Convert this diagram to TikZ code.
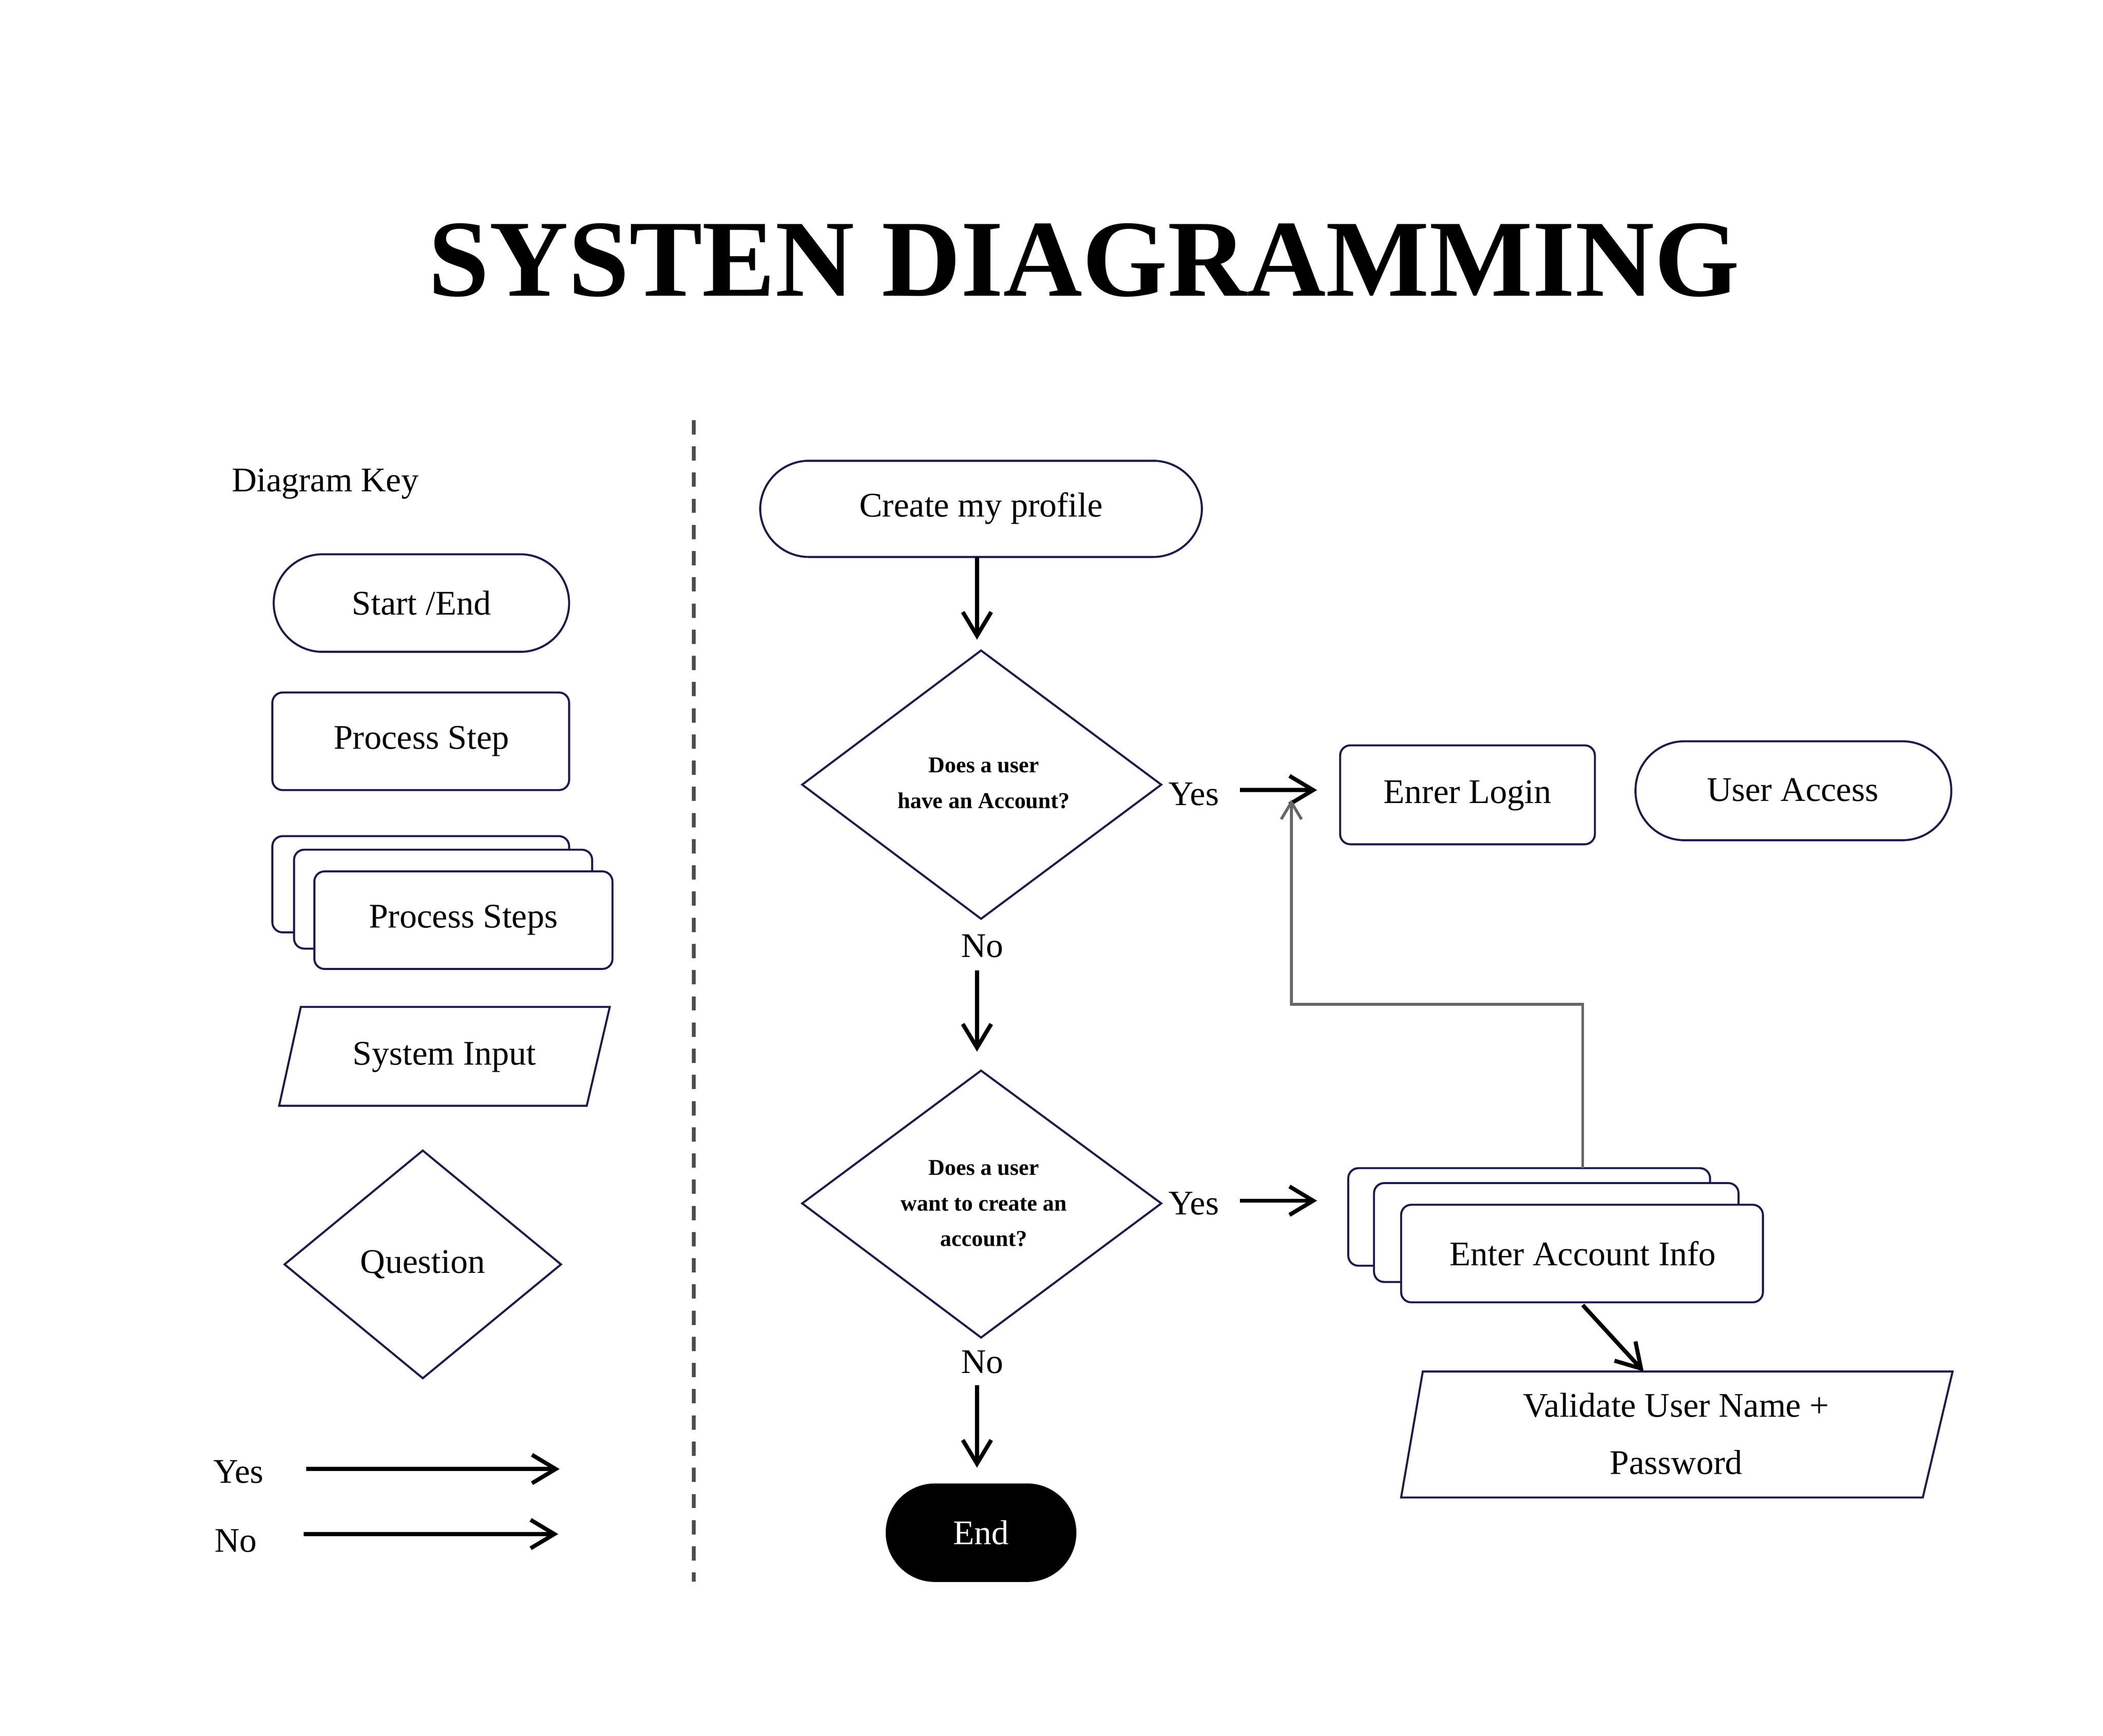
\documentclass[tikz,border=0pt]{standalone}
\usepackage{fontspec}
\setmainfont{Liberation Serif}
\usetikzlibrary{shapes.geometric,arrows.meta,positioning}
\definecolor{Edge}{HTML}{1C1C4A}
\tikzset{
  txt/.style={font=\fontsize{14.5}{17}\selectfont},
  qtxt/.style={font=\fontsize{9.5}{15}\selectfont\bfseries, align=center},
  terminal/.style={draw=Edge, line width=0.85pt, rounded corners=0.72cm, txt},
  procbox/.style={draw=Edge, line width=0.85pt, fill=white, rounded corners=0.15cm, txt},
  flow/.style={line width=1.7pt, -{Straight Barb[length=0.35cm, width=0.42cm, line width=1.7pt]}},
}
\begin{document}
\begin{tikzpicture}[x=0.02cm, y=-0.02cm]
    \useasboundingbox (0,0) rectangle (1552,1281);

    \node [font=\fontsize{46}{50}\selectfont\bfseries] (title) at (800,192) {SYSTEN DIAGRAMMING};
    \draw [dashed, dash pattern=on 6pt off 5pt, line width=1.7pt, color=black!70] (512,310) -- (512,1167);

    % key
    \node [txt] (key) at (240,357) {Diagram Key};
    \draw [terminal] (202,409) rectangle (420,481);
    \node [txt] (kstart) at (311,445) {Start /End};
    \draw [procbox] (201,511) rectangle (420,583);
    \node [txt] (kstep) at (311,547) {Process Step};
    \draw [procbox] (201,617) rectangle (420,688);
    \draw [procbox] (217,627) rectangle (437,700);
    \draw [procbox] (232,643) rectangle (452,715);
    \node [txt] (ksteps) at (342,679) {Process Steps};
    \draw [draw=Edge, line width=0.85pt] (222,743) -- (450,743) -- (433,816) -- (206,816) -- cycle;
    \node [txt] (kinput) at (328,780) {System Input};
    \draw [draw=Edge, line width=0.85pt] (312,849) -- (414,933) -- (312,1017) -- (210,933) -- cycle;
    \node [txt] (kquestion) at (312,933) {Question};
    \node [txt] (kyes) at (176,1086) {Yes};
    \coordinate (kyesA) at (226,1084); \coordinate (kyesB) at (413,1084);
    \draw [flow] (kyesA) -- (kyesB);
    \node [txt] (kno) at (174,1137) {No};
    \coordinate (knoA) at (224,1132); \coordinate (knoB) at (412,1132);
    \draw [flow] (knoA) -- (knoB);

    % flow
    \draw [terminal] (561,340) rectangle (887,411);
    \node [txt] (profile) at (724,375) {Create my profile};
    \coordinate (profileS) at (721,411);
    \draw [draw=Edge, line width=0.85pt] (724,480) -- (857,579) -- (724,678) -- (592,579) -- cycle;
    \node [qtxt] (account) at (726,578) {Does a user\\have an Account?};
    \coordinate (accountN) at (721,472);
    \draw [flow] (profileS) -- (accountN);

    \node [txt] (yes1) at (881,586) {Yes};
    \coordinate (yes1A) at (915,583); \coordinate (yes1B) at (972,583);
    \draw [flow] (yes1A) -- (yes1B);
    \draw [procbox] (989,550) rectangle (1177,623);
    \node [txt] (login) at (1083,587) {Enrer Login};
    \draw [terminal] (1207,547) rectangle (1440,620);
    \node [txt] (access) at (1323,583) {User Access};

    \node [txt] (no1) at (725,698) {No};
    \coordinate (no1A) at (721,716); \coordinate (no1B) at (721,776);
    \draw [flow] (no1A) -- (no1B);
    \draw [draw=Edge, line width=0.85pt] (724,790) -- (857,888) -- (724,987) -- (592,888) -- cycle;
    \node [qtxt] (create) at (726,888) {Does a user\\want to create an\\account?};

    \node [txt] (yes2) at (881,888) {Yes};
    \coordinate (yes2A) at (915,886); \coordinate (yes2B) at (972,886);
    \draw [flow] (yes2A) -- (yes2B);
    \draw [procbox] (995,862) rectangle (1262,934);
    \draw [procbox] (1014,873) rectangle (1283,946);
    \draw [procbox] (1034,889) rectangle (1301,961);
    \node [txt] (info) at (1168,925) {Enter Account Info};
    \coordinate (infoN) at (1168,862);
    \coordinate (loginS) at (953,590);
    \draw [line width=1.2pt, color=black!60, -{Straight Barb[length=0.25cm, width=0.3cm]}] (infoN) |- (953,741) -- (loginS);

    \draw [draw=Edge, line width=0.85pt] (1050,1012) -- (1441,1012) -- (1419,1105) -- (1034,1105) -- cycle;
    \node [txt, align=center] (validate) at (1237,1058) {Validate User Name +\\[0.25cm]Password};
    \coordinate (infoS) at (1168,963); \coordinate (validateN) at (1213,1012);
    \draw [flow] (infoS) -- (validateN);

    \node [txt] (no2) at (725,1005) {No};
    \coordinate (no2A) at (721,1022); \coordinate (no2B) at (721,1083);
    \draw [flow] (no2A) -- (no2B);
    \draw [fill=black, rounded corners=0.72cm] (654,1095) rectangle (794,1167);
    \node [txt, color=white] (end) at (724,1131) {End};
\end{tikzpicture}
\end{document}
